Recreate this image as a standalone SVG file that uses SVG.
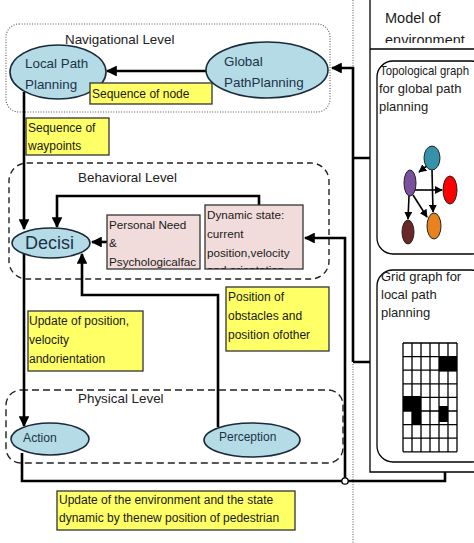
<svg xmlns="http://www.w3.org/2000/svg" width="474" height="543" viewBox="0 0 474 543">
<defs>
<style>
text{font-family:"Liberation Sans",Arial,sans-serif;fill:#1a1a1a}
.lvl{font-size:13.4px;fill:#222}
.ell{fill:#b4dbe6;stroke:#1a2a38;stroke-width:1.6}
.et{font-size:13.4px;fill:#1d3349}
.yb{fill:#ffff66;stroke:#333;stroke-width:1.3}
.yt{font-size:12px;fill:#1a1a1a}
.pb{fill:#f2dcdb;stroke:#333;stroke-width:1.3}
.pt{font-size:11.7px;fill:#1a1a1a}
.c{fill:none;stroke:#000;stroke-width:2.6}
.ca{fill:none;stroke:#000;stroke-width:2.6;marker-end:url(#ah)}
.ga{fill:none;stroke:#000;stroke-width:1.6;marker-end:url(#sah)}
.gn{stroke:#222;stroke-width:1}
.pan{fill:none;stroke:#000;stroke-width:1.3}
.rt{font-size:13px;fill:#1a1a1a}
.grid{fill:none;stroke:#000;stroke-width:1.3}
</style>
<marker id="ah" viewBox="0 0 10 10" refX="9" refY="5" markerWidth="4.2" markerHeight="4.2" orient="auto" markerUnits="strokeWidth">
<path d="M0,0 L10,5 L0,10 z" fill="#000"/>
</marker>
<marker id="sah" viewBox="0 0 10 10" refX="9" refY="5" markerWidth="5" markerHeight="5" orient="auto" markerUnits="strokeWidth">
<path d="M0,0 L10,5 L0,10 z" fill="#000"/>
</marker>
<clipPath id="clipHead"><rect x="370" y="0" width="104" height="43"/></clipPath>
<clipPath id="clipDyn"><rect x="205" y="205" width="98" height="64"/></clipPath>
<clipPath id="clipPers"><rect x="107" y="215" width="93" height="54"/></clipPath>
<clipPath id="clipDec"><ellipse cx="51" cy="243" rx="39" ry="15"/></clipPath>
</defs>
<rect width="474" height="543" fill="#fff"/>

<!-- level containers -->
<g id="navigational-level">
<rect x="6" y="24" width="324" height="88" rx="13" fill="none" stroke="#555" stroke-width="1.1" stroke-dasharray="1 1.6"/>
<text class="lvl" x="65" y="44">Navigational Level</text>
</g>
<g id="behavioral-level">
<rect x="9" y="163" width="320" height="116" rx="18" fill="none" stroke="#222" stroke-width="1.4" stroke-dasharray="6 4"/>
<text class="lvl" x="78" y="182">Behavioral Level</text>
</g>
<g id="physical-level">
<rect x="6" y="390" width="337" height="73" rx="15" fill="none" stroke="#222" stroke-width="1.4" stroke-dasharray="7 4"/>
<text class="lvl" x="78" y="403">Physical Level</text>
</g>

<!-- right panel -->
<g id="model-of-environment">
<path class="pan" d="M370,0 V472 H474 M370,49 H474"/>
<g clip-path="url(#clipHead)">
<text x="385" y="23" style="font-size:14.5px">Model of</text>
<text x="385" y="45" style="font-size:14.5px">environment</text>
</g>
</g>
<g id="topological-graph">
<rect x="377" y="61" width="110" height="193" rx="16" class="pan"/>
<text class="rt" x="380" y="75" textLength="89" lengthAdjust="spacingAndGlyphs">Topological graph</text>
<text class="rt" x="379" y="93">for global path</text>
<text class="rt" x="379" y="111">planning</text>
<path class="ga" d="M428,165 L419,172"/>
<path class="ga" d="M432,170 L433,212"/>
<path class="ga" d="M415,190 L442,190"/>
<path class="ga" d="M409,196 L408,219"/>
<path class="ga" d="M413,195 L427,217"/>
<ellipse class="gn" cx="432" cy="158" rx="8" ry="12" fill="#3592aa"/>
<ellipse class="gn" cx="410" cy="183" rx="6" ry="13" fill="#7b519e"/>
<ellipse class="gn" cx="450" cy="190" rx="7" ry="14" fill="#ff0000"/>
<ellipse class="gn" cx="408" cy="232" rx="6" ry="12" fill="#6b2628"/>
<ellipse class="gn" cx="434" cy="226" rx="7" ry="13" fill="#e8821f"/>
</g>
<g id="grid-graph">
<rect x="377" y="270" width="110" height="192" rx="16" class="pan"/>
<text class="rt" x="381" y="281">Grid graph for</text>
<text class="rt" x="381" y="299">local path</text>
<text class="rt" x="381" y="317">planning</text>
<rect x="439" y="356.6" width="18" height="15" fill="#000"/>
<rect x="403" y="396" width="18" height="15" fill="#000"/>
<rect x="412" y="410" width="9" height="15" fill="#000"/>
<rect x="439" y="406" width="9" height="16" fill="#000"/>
<path class="grid" d="M403,343 V451.8 M412,343 V451.8 M421,343 V451.8 M430,343 V451.8 M439,343 V451.8 M448,343 V451.8 M457,343 V451.8
M403,343 H457 M403,356.6 H457 M403,370.2 H457 M403,383.8 H457 M403,397.4 H457 M403,411 H457 M403,424.6 H457 M403,438.2 H457 M403,451.8 H457"/>
</g>

<!-- dotted separator -->
<path d="M353,0 V66 M353,364 V543" stroke="#555" stroke-width="1" stroke-dasharray="1 1.5" fill="none"/>

<!-- connectors -->
<g id="connectors">
<path class="ca" d="M353,362 H370 M353,158 H370 M353,362 V68 H332"/>
<path class="ca" d="M206,71 H107"/>
<path class="ca" d="M24,92 V229"/>
<path class="ca" d="M259,205 V196 H57 V227"/>
<path class="ca" d="M107,242 H92"/>
<path class="ca" d="M218,427 V295 H82 V254"/>
<path class="ca" d="M24,254 V426"/>
<path class="ca" d="M345,481 V238 H305"/>
<path class="c" d="M22,453 V481 H445 V472"/>
<circle cx="345" cy="481" r="3.2" fill="#fff" stroke="#000" stroke-width="1.3"/>
</g>

<!-- nodes -->
<g id="local-path-planning">
<ellipse class="ell" cx="58" cy="72" rx="48" ry="27"/>
<text class="et" x="25" y="68">Local Path</text>
<text class="et" x="25" y="89">Planning</text>
</g>
<g id="global-path-planning">
<ellipse class="ell" cx="267" cy="70" rx="61" ry="28"/>
<text class="et" x="224" y="66">Global</text>
<text class="et" x="224" y="87">PathPlanning</text>
</g>
<g id="label-sequence-of-node">
<rect class="yb" x="90" y="83" width="122" height="21"/>
<text class="yt" x="92" y="98">Sequence of node</text>
</g>
<g id="label-sequence-of-waypoints">
<rect class="yb" x="26" y="118" width="83" height="37"/>
<text class="yt" x="28" y="132">Sequence of</text>
<text class="yt" x="28" y="150">waypoints</text>
</g>
<g id="decision">
<ellipse class="ell" cx="51" cy="243" rx="39" ry="15"/>
<text x="25" y="249" style="font-size:18px;fill:#1d3349" clip-path="url(#clipDec)">Decisi</text>
</g>
<g id="personal-need">
<rect class="pb" x="107" y="215" width="93" height="54"/>
<g clip-path="url(#clipPers)">
<text class="pt" x="109" y="229">Personal Need</text>
<text class="pt" x="109" y="247">&amp;</text>
<text class="pt" x="109" y="266">Psychologicalfac</text>
</g>
</g>
<g id="dynamic-state">
<rect class="pb" x="205" y="205" width="98" height="64"/>
<g clip-path="url(#clipDyn)">
<text class="pt" x="207" y="219">Dynamic state:</text>
<text class="pt" x="207" y="238">current</text>
<text class="pt" x="207" y="257">position,velocity</text>
<text class="pt" x="207" y="273.5">and orientation</text>
</g>
</g>
<g id="label-position-of-obstacles">
<rect class="yb" x="226" y="287" width="103" height="64"/>
<text class="yt" x="228" y="301">Position of</text>
<text class="yt" x="228" y="320">obstacles and</text>
<text class="yt" x="228" y="339">position ofother</text>
</g>
<g id="label-update-position">
<rect class="yb" x="28" y="311" width="115" height="60"/>
<text class="yt" x="29" y="325">Update of position,</text>
<text class="yt" x="29" y="344">velocity</text>
<text class="yt" x="29" y="363">andorientation</text>
</g>
<g id="action">
<ellipse class="ell" cx="50" cy="439" rx="39" ry="16"/>
<text x="23" y="442" style="font-size:12.2px;fill:#1d3349">Action</text>
</g>
<g id="perception">
<ellipse class="ell" cx="252" cy="440" rx="48" ry="17"/>
<text x="219" y="441" style="font-size:12px;fill:#1d3349">Perception</text>
</g>
<g id="label-update-environment">
<rect class="yb" x="57" y="491" width="238" height="39"/>
<text class="yt" x="59" y="504">Update of the environment and the state</text>
<text class="yt" x="59" y="522">dynamic by thenew position of pedestrian</text>
</g>
</svg>
